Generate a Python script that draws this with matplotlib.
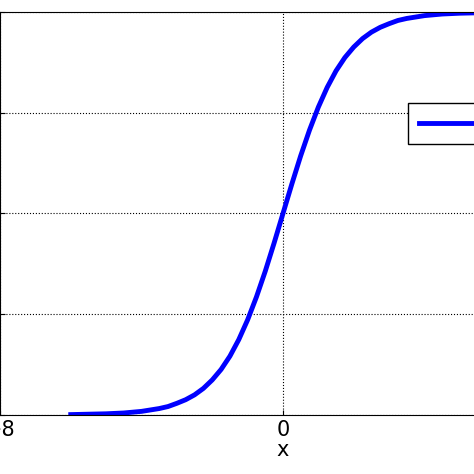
import matplotlib
matplotlib.use("Agg")
import matplotlib.pyplot as plt

xpos = [0, 0.25, 0.5, 0.75, 1, 1.25, 1.5, 1.75, 2, 2.25, 2.5, 2.75, 3, 3.25, 3.5, 4, 4.5, 5, 5.5, 6]
ypos = [0.5, 0.573, 0.643, 0.707, 0.764, 0.813, 0.854, 0.887, 0.913, 0.934, 0.950,
        0.962, 0.971, 0.979, 0.984, 0.991, 0.995, 0.997, 0.998, 0.999]
xs = [-v for v in xpos[::-1]] + xpos[1:]
ys = [1 - v for v in ypos[::-1]] + ypos[1:]
xticks = [-8, 0, 8]
yticks = [0, 0.25, 0.5, 0.75, 1]

fig = plt.figure(figsize=(4.74, 4.74), dpi=100)
ax = fig.add_axes([0.0, 1 - 415/474, 1.194, (415 - 12)/474])
ax.plot(xs, ys, color="blue", lw=3.5, label="erf(x)")
ax.set_xlim(-6, 6)
ax.set_ylim(0, 1)
ax.set_xticks(xticks)
ax.set_yticks(yticks)
ax.set_yticklabels([])
ax.grid(True, color="black", linestyle=":", lw=0.8)
ax.tick_params(labelsize=15, direction="in")
ax.set_xlabel("x", fontsize=15, labelpad=0)
fig.legend(loc="upper left", bbox_to_anchor=(398/474, 1 - 93/474), fontsize=15,
           fancybox=False, edgecolor="black", framealpha=1, handlelength=3.5,
           borderpad=0.5)
fig.savefig("out.png", dpi=100)
